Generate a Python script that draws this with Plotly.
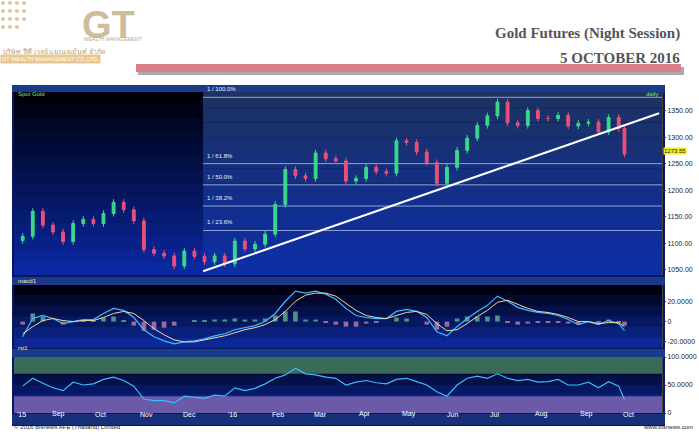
import pandas as pd
import plotly.graph_objects as go
from plotly.subplots import make_subplots

W, H = 699, 441
# weekly closes (Fri), Aug 2015 - Oct 4 2016
close = [1113, 1160, 1134,                      # Aug 15
         1121, 1103, 1137, 1145,                # Sep
         1137, 1156, 1177, 1163, 1142,          # Oct
         1088, 1081, 1076, 1057,                # Nov
         1085, 1075, 1065, 1076,                # Dec
         1061, 1104, 1089, 1098, 1117,          # Jan 16
         1173, 1239, 1227, 1222,                # Feb
         1270, 1259, 1255, 1217,                # Mar
         1222, 1243, 1235, 1232, 1293,          # Apr
         1290, 1272, 1252, 1213,                # May
         1243, 1275, 1298, 1322,                # Jun
         1340, 1366, 1327, 1322, 1350,          # Jul
         1335, 1335, 1341, 1321,                # Aug
         1326, 1328, 1310, 1337, 1316,          # Sep
         1268]                                  # Oct 4
macd = [-15, 3, 6, 3, -2, 0, 2, 2, 8, 13, 11, 4, -8, -15, -19, -22, -20, -19, -17, -14,
        -12, -8, -6, -4, 0, 8, 20, 30, 28, 30, 27, 22, 13, 6, 4, 3, 3, 10, 12, 10, 4, -10,
        -14, -5, 3, 10, 16, 25, 20, 14, 11, 9, 8, 6, 2, -3, 0, -3, 1, -2, -9]
signal = [-12, -5, 1, 3, 1, 0, 1, 1, 4, 8, 10, 8, 1, -7, -13, -18, -20, -20, -18, -16,
          -14, -11, -8, -6, -3, 2, 10, 20, 26, 28, 28, 25, 18, 11, 6, 4, 3, 6, 9, 10, 7, -2,
          -9, -8, -2, 5, 11, 19, 21, 17, 13, 10, 9, 7, 4, 0, 0, -2, -1, -1, -5]
rsi = [48, 62, 53, 45, 40, 55, 50, 52, 60, 64, 58, 48, 25, 22, 22, 18, 30, 28, 26, 32,
       30, 45, 40, 44, 52, 62, 68, 80, 70, 68, 64, 62, 50, 55, 58, 54, 52, 60, 62, 56, 50,
       38, 30, 50, 62, 66, 62, 70, 62, 58, 60, 55, 56, 60, 50, 50, 55, 45, 56, 48, 24]
dates = list(pd.date_range("2015-08-14", "2016-09-30", freq="W-FRI")) + [pd.Timestamp("2016-10-04")]
n = len(dates)
close, macd, signal, rsi = close[:n], macd[:n], signal[:n], rsi[:n]
opens = [close[0] - 8] + close[:-1]
highs = [max(o, c) + 6 for o, c in zip(opens, close)]
lows = [min(o, c) - 6 for o, c in zip(opens, close)]
hist = [m - s for m, s in zip(macd, signal)]

fib_levels = [1375, 1250, 1210, 1170, 1124]
fib_labels = ["1 / 100.0%", "1 / 61.8%", "1 / 50.0%", "1 / 38.2%", "1 / 23.6%"]
fib_start = "2015-12-17"
trend_x = ["2015-12-17", "2016-10-28"]
trend_y = [1047, 1345]
month_ticks = ["2015-08-08", "2015-09-01", "2015-10-01", "2015-11-01", "2015-12-01", "2016-01-01",
               "2016-02-01", "2016-03-01", "2016-04-01", "2016-05-01", "2016-06-01", "2016-07-01",
               "2016-08-01", "2016-09-01", "2016-10-01"]
month_text = ["'15", "Sep", "Oct", "Nov", "Dec", "'16", "Feb", "Mar", "Apr", "May", "Jun", "Jul", "Aug", "Sep", "Oct"]

def py(p):  # pixel y -> paper
    return 1 - p / H
def px(p):
    return p / W

fig = make_subplots(rows=3, cols=1, shared_xaxes=True)
fig.add_trace(go.Candlestick(x=dates, open=opens, high=highs, low=lows, close=close,
                             increasing=dict(line=dict(color="#39d98a", width=1), fillcolor="#39d98a"),
                             decreasing=dict(line=dict(color="#e8507a", width=1), fillcolor="#e8507a"),
                             whiskerwidth=0, showlegend=False), 1, 1)
fig.add_trace(go.Scatter(x=trend_x, y=trend_y, mode="lines", line=dict(color="white", width=2),
                         showlegend=False), 1, 1)
fig.add_trace(go.Bar(x=dates, y=hist, marker_color=["#5fa889" if h >= 0 else "#b07aa8" for h in hist],
                     marker_line_width=0, opacity=0.85, showlegend=False), 2, 1)
fig.add_trace(go.Scatter(x=dates, y=macd, mode="lines", line=dict(color="#40b8ff", width=1.2),
                         showlegend=False), 2, 1)
fig.add_trace(go.Scatter(x=dates, y=signal, mode="lines", line=dict(color="#f0d8a0", width=1),
                         showlegend=False), 2, 1)
fig.add_trace(go.Scatter(x=dates, y=rsi, mode="lines", line=dict(color="#40b8ff", width=1.2),
                         showlegend=False), 3, 1)

xd = [px(14), px(662)]
xr = ["2015-08-08", "2016-10-30"]
for i, (top, bot) in enumerate([(92, 275), (285, 348), (357, 413)], start=1):
    fig.update_xaxes(domain=xd, range=xr, showgrid=False, showticklabels=False, zeroline=False,
                     automargin=False, rangeslider_visible=False, row=i, col=1)
    fig.update_yaxes(domain=[py(bot), py(top)], side="right", showgrid=False, ticks="outside",
                     zeroline=False, automargin=False, showline=True, linecolor="#444", linewidth=1,
                     ticklen=3, tickcolor="#333", tickfont=dict(size=7, color="#222", family="Arial"),
                     row=i, col=1)
fig.update_yaxes(range=[1040, 1385], tickvals=[1050, 1100, 1150, 1200, 1250, 1300, 1350],
                 tickformat=".2f", row=1, col=1)
fig.update_yaxes(range=[-26, 36], tickvals=[-20, 0, 20], ticktext=["-20.0000", "0", "20.0000"], row=2, col=1)
fig.update_yaxes(range=[0, 100], tickvals=[0, 50, 100], ticktext=["0", "50.0000", "100.0000"], row=3, col=1)

shapes = []
ann = []
def band(x0, x1, y0, y1, c0, c1, steps):
    for k in range(steps):
        t = k / (steps - 1)
        col = "rgb(%d,%d,%d)" % tuple(int(a + (b - a) * t) for a, b in zip(c0, c1))
        shapes.append(dict(type="rect", xref="paper", yref="paper", x0=x0, x1=x1,
                           y0=py(y0 + (y1 - y0) * k / steps), y1=py(y0 + (y1 - y0) * (k + 1) / steps),
                           fillcolor=col, line_width=0, layer="below"))
shapes.append(dict(type="rect", xref="paper", yref="paper", x0=px(12), x1=px(665), y0=py(426), y1=py(85),
                   fillcolor="#0a1660", line_width=0, layer="below"))
band(px(14), px(662), 92, 275, (0, 0, 12), (10, 40, 160), 14)
band(px(14), px(662), 285, 348, (0, 0, 20), (12, 40, 150), 6)
band(px(14), px(662), 357, 413, (0, 0, 20), (12, 40, 150), 6)
for k in range(12):
    t = k / 11
    col = "rgb(%d,%d,%d)" % (int(28 + (14 - 28) * t), int(50 + (46 - 50) * t), int(100 + (165 - 100) * t))
    shapes.append(dict(type="rect", xref="x", yref="y", x0=fib_start, x1="2016-10-30",
                       y0=1385 - (1385 - 1040) * (k + 1) / 12, y1=1385 - (1385 - 1040) * k / 12,
                       fillcolor=col, line_width=0, layer="below"))
for lv, lb in zip(fib_levels, fib_labels):
    shapes.append(dict(type="line", xref="x", yref="y", x0=fib_start, x1="2016-10-30", y0=lv, y1=lv,
                       line=dict(color="rgba(200,215,240,0.7)", width=1), layer="below"))
    ann.append(dict(x=fib_start, y=lv, xref="x", yref="y", text=lb, showarrow=False, xanchor="left",
                    yanchor="bottom", xshift=2, yshift=3, font=dict(size=6, color="#e8eef8", family="Arial")))
shapes.append(dict(type="rect", xref="x3", yref="y3", x0=xr[0], x1=xr[1], y0=70, y1=100,
                   fillcolor="#3a6a5a", line_width=0, layer="below"))
shapes.append(dict(type="rect", xref="x3", yref="y3", x0=xr[0], x1=xr[1], y0=0, y1=30,
                   fillcolor="#6a5aa8", line_width=0, layer="below"))
for y0, y1, lab in [(85, 92, "Spot Gold"), (277, 285, "macd1"), (349, 357, "rsi1")]:
    shapes.append(dict(type="rect", xref="paper", yref="paper", x0=px(12), x1=px(665), y0=py(y1), y1=py(y0),
                       fillcolor="#1c3a8a", line_width=0))
    ann.append(dict(x=px(16), y=py((y0 + y1) / 2), xref="paper", yref="paper", text=lab, showarrow=False,
                    xanchor="left", font=dict(size=6, color="#7ee060" if lab == "Spot Gold" else "#f0f0a0",
                                              family="Arial")))
ann.append(dict(x=px(660), y=py(88.5), xref="paper", yref="paper", text="daily", showarrow=False,
                xanchor="right", font=dict(size=6, color="#7ee060", family="Arial")))
shapes.append(dict(type="rect", xref="paper", yref="paper", x0=px(12), x1=px(665), y0=py(425), y1=py(414),
                   fillcolor="#16307a", line_width=0))
for d, t in zip(month_ticks, month_text):
    ann.append(dict(x=d, y=py(419.5), xref="x3", yref="paper", text=t, showarrow=False, xanchor="left",
                    xshift=1, font=dict(size=7, color="#ffffff", family="Arial")))
ann.append(dict(x=px(12), y=py(432), xref="paper", yref="paper", text="© 2016 Bisnews AFE (Thailand) Limited",
                showarrow=False, xanchor="left", font=dict(size=6, color="#222", family="Arial")))
ann.append(dict(x=px(695), y=py(432), xref="paper", yref="paper", text="www.bisnews.com",
                showarrow=False, xanchor="right", font=dict(size=6, color="#222", family="Arial")))
ann.append(dict(x=px(662), y=close[-1] + 5, xref="paper", yref="y", text="1273.55", showarrow=False,
                xanchor="left", xshift=1, bgcolor="#f0f020", borderpad=0,
                font=dict(size=6, color="#222", family="Arial")))
ann.append(dict(x=px(682), y=py(23), xref="paper", yref="paper", text="<b>Gold Futures (Night Session)</b>",
                showarrow=False, xanchor="right", font=dict(size=15, color="#555555", family="Liberation Serif")))
ann.append(dict(x=px(682), y=py(48), xref="paper", yref="paper", text="<b>5 OCTOBER 2016</b>",
                showarrow=False, xanchor="right", font=dict(size=15, color="#555555", family="Liberation Serif")))
shapes.append(dict(type="rect", xref="paper", yref="paper", x0=px(138), x1=px(684), y0=py(75), y1=py(67),
                   fillcolor="#aaaaaa", line_width=0))
shapes.append(dict(type="rect", xref="paper", yref="paper", x0=px(136), x1=px(681), y0=py(72), y1=py(64),
                   fillcolor="#d98088", line_width=0))
# logo dots
for r in range(4):
    for c in range(4 - (r == 3)):
        cx, cy = 3 + c * 7, 3 + r * 8
        shapes.append(dict(type="circle", xref="paper", yref="paper", x0=px(cx - 2), x1=px(cx + 2),
                           y0=py(cy + 2), y1=py(cy - 2), fillcolor="#d8c8a8", line_width=0))
ann.append(dict(x=px(80), y=py(2), xref="paper", yref="paper", text="<b>GT</b>", showarrow=False,
                font=dict(size=38, color="#cdbd9a", family="Liberation Sans")))
ann.append(dict(x=px(82), y=py(34), xref="paper", yref="paper", text="WEALTH MANAGEMENT", showarrow=False,
                font=dict(size=5, color="#b8a888", family="Arial")))
ann.append(dict(x=px(1), y=py(45), xref="paper", yref="paper", text="บริษัท จีที เวลธ์ แมเนจเม้นท์ จำกัด",
                showarrow=False, xanchor="left", font=dict(size=7, color="#b8a070", family="Noto Sans")))
ann.append(dict(x=px(0), y=py(54), xref="paper", yref="paper", text="GT WEALTH MANAGEMENT CO.,LTD.",
                showarrow=False, xanchor="left", bgcolor="#e8c890", font=dict(size=5.5, color="#ffffff", family="Arial")))

fig.update_layout(width=W, height=H, margin=dict(l=0, r=0, t=0, b=0), paper_bgcolor="white",
                  plot_bgcolor="rgba(0,0,0,0)", shapes=shapes, annotations=ann, bargap=0.2)
fig.write_html("out.html", config={"displayModeBar": False},
               post_script="document.body.style.margin='0';document.body.style.overflow='hidden';")
